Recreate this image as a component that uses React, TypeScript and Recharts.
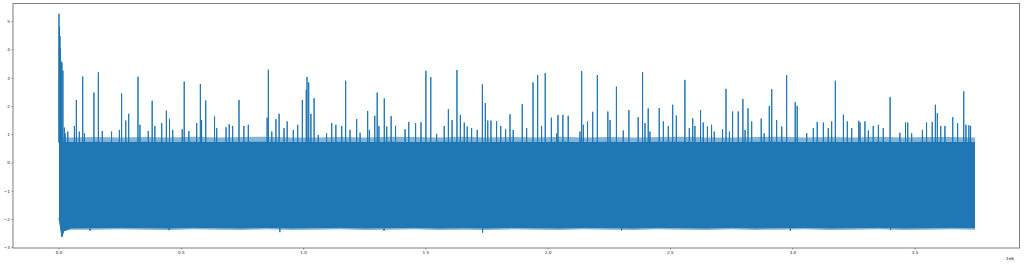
import { ComposedChart, Area, Line, XAxis, YAxis } from "recharts";

// x in units of 1e6 samples
const BAND_X = [0, 0.003, 0.012, 0.02, 0.05, 0.15, 0.25, 0.35, 0.45, 0.55, 0.65, 0.75, 0.85, 0.95, 1.05, 1.15, 1.25, 1.35, 1.45, 1.55, 1.65, 1.75, 1.85, 1.95, 2.05, 2.15, 2.25, 2.35, 2.45, 2.55, 2.65, 2.75, 2.85, 2.95, 3.05, 3.15, 3.25, 3.35, 3.45, 3.55, 3.65, 3.745];
const BAND_HI = [0.75, 0.75, 0.75, 0.72, 0.72, 0.73, 0.72, 0.73, 0.72, 0.73, 0.72, 0.73, 0.73, 0.72, 0.72, 0.73, 0.72, 0.73, 0.72, 0.73, 0.73, 0.72, 0.73, 0.72, 0.73, 0.72, 0.73, 0.72, 0.73, 0.73, 0.72, 0.72, 0.73, 0.73, 0.72, 0.73, 0.72, 0.73, 0.72, 0.73, 0.72, 0.72];
// light fringe of short spikes sitting on top of the band
const FRINGE_HI = [0.95, 0.95, 0.95, 0.9, 0.9, 0.92, 0.9, 0.92, 0.9, 0.93, 0.9, 0.92, 0.93, 0.9, 0.9, 0.92, 0.9, 0.93, 0.92, 0.9, 0.93, 0.9, 0.92, 0.9, 0.93, 0.9, 0.92, 0.9, 0.92, 0.93, 0.9, 0.9, 0.92, 0.93, 0.9, 0.92, 0.9, 0.93, 0.9, 0.92, 0.92, 0.9];
const BAND_LO = [-1.95, -2.1, -2.62, -2.4, -2.3, -2.29, -2.28, -2.29, -2.3, -2.28, -2.29, -2.3, -2.28, -2.3, -2.29, -2.28, -2.3, -2.29, -2.28, -2.3, -2.29, -2.3, -2.28, -2.29, -2.3, -2.28, -2.29, -2.3, -2.28, -2.29, -2.3, -2.28, -2.3, -2.29, -2.28, -2.3, -2.29, -2.28, -2.3, -2.29, -2.28, -2.29];
const LOW_FRINGE = [-1.95, -2.1, -2.62, -2.42, -2.36, -2.36, -2.35, -2.36, -2.37, -2.35, -2.36, -2.37, -2.35, -2.37, -2.36, -2.35, -2.37, -2.36, -2.35, -2.37, -2.36, -2.37, -2.35, -2.36, -2.37, -2.35, -2.36, -2.37, -2.35, -2.36, -2.37, -2.35, -2.37, -2.36, -2.35, -2.37, -2.36, -2.35, -2.37, -2.36, -2.35, -2.36];

const SPIKE_X = [0, 0.002, 0.004, 0.006, 0.009, 0.012, 0.016, 0.022, 0.025, 0.036, 0.063, 0.071, 0.083, 0.097, 0.104, 0.143, 0.161, 0.177, 0.215, 0.247, 0.256, 0.273, 0.285, 0.323, 0.331, 0.365, 0.381, 0.392, 0.42, 0.439, 0.452, 0.465, 0.504, 0.512, 0.531, 0.563, 0.578, 0.583, 0.6, 0.636, 0.645, 0.683, 0.696, 0.71, 0.736, 0.756, 0.774, 0.851, 0.856, 0.87, 0.887, 0.9, 0.92, 0.933, 0.958, 0.976, 0.995, 1.011, 1.014, 1.021, 1.03, 1.043, 1.06, 1.094, 1.115, 1.132, 1.156, 1.172, 1.19, 1.217, 1.231, 1.262, 1.269, 1.291, 1.301, 1.308, 1.33, 1.34, 1.358, 1.376, 1.415, 1.43, 1.458, 1.48, 1.5, 1.52, 1.544, 1.575, 1.592, 1.607, 1.627, 1.641, 1.657, 1.669, 1.687, 1.71, 1.731, 1.743, 1.753, 1.766, 1.789, 1.806, 1.826, 1.844, 1.857, 1.894, 1.912, 1.938, 1.957, 1.973, 1.988, 2.013, 2.035, 2.04, 2.06, 2.082, 2.13, 2.137, 2.144, 2.161, 2.182, 2.201, 2.244, 2.253, 2.279, 2.307, 2.33, 2.368, 2.386, 2.396, 2.409, 2.416, 2.454, 2.471, 2.491, 2.509, 2.524, 2.559, 2.577, 2.591, 2.6, 2.623, 2.634, 2.651, 2.668, 2.679, 2.713, 2.727, 2.741, 2.754, 2.777, 2.796, 2.805, 2.817, 2.832, 2.871, 2.883, 2.904, 2.914, 2.934, 2.955, 2.975, 3.01, 3.018, 3.057, 3.084, 3.1, 3.125, 3.145, 3.159, 3.174, 3.207, 3.223, 3.241, 3.27, 3.275, 3.295, 3.309, 3.329, 3.35, 3.37, 3.398, 3.438, 3.461, 3.47, 3.486, 3.53, 3.547, 3.57, 3.583, 3.591, 3.605, 3.622, 3.654, 3.674, 3.699, 3.708, 3.72, 3.727];
const SPIKE_Y = [5.28, 4.83, 4.5, 4.07, 3.59, 3.55, 3.27, 1.25, 1.05, 1.11, 1.31, 2.23, 1.11, 3.06, 1.05, 2.49, 3.21, 1.13, 1.11, 1.17, 2.46, 1.5, 1.74, 3.05, 1.35, 1.13, 2.2, 1.31, 1.41, 1.85, 1.56, 1.17, 1.19, 2.88, 1.13, 1.41, 2.79, 1.52, 2.21, 1.64, 1.23, 1.26, 1.37, 1.31, 2.23, 1.31, 1.35, 1.6, 3.3, 1.11, 1.55, 1.74, 1.23, 1.47, 1.17, 1.35, 2.23, 2.59, 3.04, 2.85, 1.74, 2.29, 0.99, 1.05, 1.41, 1.35, 1.31, 2.91, 1.17, 1.55, 1.07, 1.84, 1.17, 1.67, 2.49, 1.31, 2.28, 1.29, 1.66, 1.31, 1.19, 1.45, 1.41, 1.44, 3.26, 3.04, 1.03, 1.31, 1.9, 1.52, 3.29, 1.7, 1.43, 1.29, 1.23, 1.17, 2.78, 2.12, 1.5, 1.5, 1.47, 1.31, 1.19, 1.72, 1.17, 2.08, 1.23, 2.85, 3.11, 1.31, 3.18, 1.6, 1.05, 1.7, 1.7, 1.67, 1.11, 3.25, 1.35, 1.47, 1.81, 3.11, 1.82, 1.52, 2.7, 1.15, 1.87, 1.62, 3.21, 1.41, 1.93, 1.11, 1.94, 1.47, 1.31, 2.06, 1.68, 2.94, 1.23, 1.58, 1.31, 1.87, 1.43, 1.29, 1.35, 1.11, 1.19, 2.62, 1.11, 1.82, 1.82, 2.26, 1.17, 1.93, 1.47, 1.57, 1.05, 2.02, 2.61, 1.52, 1.29, 3.11, 2.15, 2.02, 1.05, 1.23, 1.45, 1.43, 1.23, 1.47, 2.91, 1.71, 1.47, 1.23, 1.49, 1.43, 1.47, 1.15, 1.31, 1.35, 1.23, 2.33, 1.07, 1.43, 1.43, 1.05, 1.17, 1.43, 1.45, 2.06, 1.76, 1.31, 1.31, 1.62, 1.41, 2.53, 1.35, 1.33, 1.31];

const DIP_X = [0.127, 0.45, 0.903, 1.329, 1.732, 2.3, 2.99, 3.4];
const DIP_Y = [-2.4, -2.38, -2.45, -2.4, -2.47, -2.39, -2.4, -2.38];

const X_TICKS = [0, 0.5, 1, 1.5, 2, 2.5, 3, 3.5];
const Y_TICKS = [-3, -2, -1, 0, 1, 2, 3, 4, 5];

const BLUE = "#1f77b4";
const SPINE = "#7f7f7f";
const FONT = "DejaVu Sans, sans-serif";
const X_DOMAIN = [-0.188, 3.929];
const Y_DOMAIN = [-3.01, 5.66];

const band = BAND_X.map((x, i) => ({
  x,
  range: [BAND_LO[i], BAND_HI[i]],
  fringe: [LOW_FRINGE[i], FRINGE_HI[i]],
}));
// each spike is a vertical stroke out of the band and back
const spikes = SPIKE_X.flatMap((x, i) => [
  { x, y: 0.72 },
  { x, y: SPIKE_Y[i] },
  { x, y: 0.72 },
]);
const dips = DIP_X.flatMap((x, i) => [
  { x, y: -2.25 },
  { x, y: DIP_Y[i] },
  { x, y: -2.25 },
]);

const tick = { fontSize: 4.2, fill: "#222", fontFamily: FONT };

export default function App() {
  return (
    <div style={{ position: "absolute", left: 0, top: 0, width: 1024, height: 265, background: "#fff" }}>
      <ComposedChart width={1024} height={265} data={band} margin={{ top: 3, right: 4, bottom: 0, left: 0 }}>
        <XAxis
          dataKey="x"
          type="number"
          domain={X_DOMAIN}
          ticks={X_TICKS}
          tickFormatter={(v: number) => v.toFixed(1)}
          allowDataOverflow
          height={17}
          tickSize={1.5}
          tickMargin={1.5}
          stroke={SPINE}
          tick={tick}
        />
        <YAxis
          type="number"
          domain={Y_DOMAIN}
          ticks={Y_TICKS}
          tickFormatter={(v: number) => String(v).replace("-", "\u2212")}
          allowDataOverflow
          width={13}
          tickSize={1.5}
          tickMargin={1.5}
          stroke={SPINE}
          tick={tick}
        />
        <Area
          type="linear"
          dataKey="fringe"
          stroke="none"
          fill={BLUE}
          fillOpacity={0.55}
          dot={false}
          activeDot={false}
          isAnimationActive={false}
        />
        <Area
          type="linear"
          dataKey="range"
          stroke={BLUE}
          strokeWidth={1}
          fill={BLUE}
          fillOpacity={1}
          dot={false}
          activeDot={false}
          isAnimationActive={false}
        />
        <Line data={spikes} type="linear" dataKey="y" stroke={BLUE} strokeWidth={1} dot={false} activeDot={false} isAnimationActive={false} />
        <Line data={dips} type="linear" dataKey="y" stroke={BLUE} strokeWidth={1} dot={false} activeDot={false} isAnimationActive={false} />
      </ComposedChart>
      {/* top and right spines of the matplotlib frame */}
      <div style={{ position: "absolute", left: 13, top: 3, width: 1007, height: 245, borderTop: `1px solid ${SPINE}`, borderRight: `1px solid ${SPINE}`, boxSizing: "border-box", pointerEvents: "none" }} />
      <div style={{ position: "absolute", left: 1006, top: 256, fontSize: 4.2, fontFamily: FONT, color: "#222" }}>1e6</div>
    </div>
  );
}
